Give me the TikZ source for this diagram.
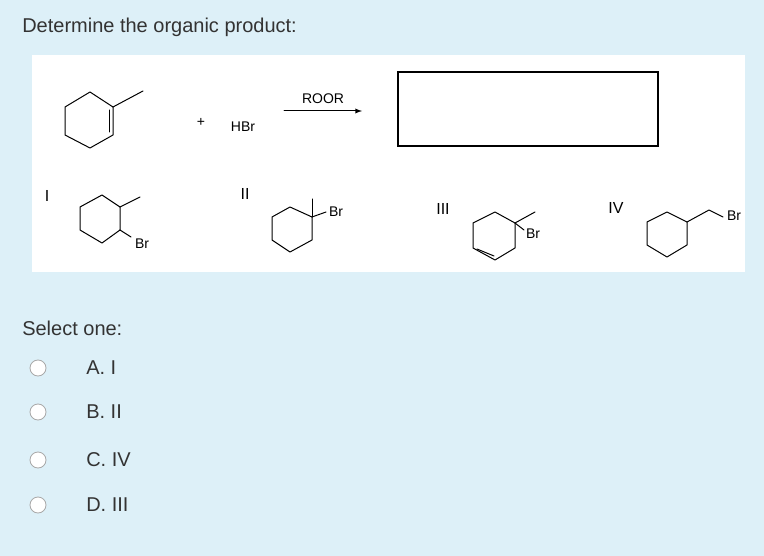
\documentclass[tikz,border=0pt]{standalone}
\usepackage{fontspec}
\setmainfont{Liberation Sans}
\definecolor{pagebg}{HTML}{DDF0F8}
\definecolor{radiogray}{HTML}{A8A8A8}
\tikzset{
  bond/.style={line width=0.75pt, line cap=round, line join=round},
  atom/.style={font=\fontsize{10.5}{12}\selectfont, inner sep=0.5pt},
  numlabel/.style={font=\fontsize{12}{13}\selectfont, inner sep=0pt},
  qtext/.style={font=\fontsize{15}{18}\selectfont, text=black!80, anchor=west, inner sep=0pt},
  radio/.style={circle, draw=radiogray, fill=white, minimum size=12pt, inner sep=0pt, line width=0.6pt}
}
\begin{document}
\begin{tikzpicture}[x=0.75pt, y=-0.75pt]
 \fill[pagebg] (0,0) rectangle (764,556);
 \useasboundingbox (0,0) rectangle (764,556);
 \fill[white] (32,55) rectangle (745,272);

 \node[qtext] (title) at (22,27) {Determine the organic product:};

 % reactant
 \draw[bond] (65,107) -- (90,92) -- (113,107) -- (113,135) -- (90,148) -- (65,135) -- cycle;
 \draw[bond] (113,107) -- (143,91);
 \draw[bond] (109,110) -- (109,132);
 \node[atom] (plus) at (201,122) {+};
 \node[atom] (hbr) at (243,127) {HBr};
 \coordinate (arrS) at (284,111);
 \coordinate (arrE) at (362,111);
 \draw[bond,-latex] (arrS) -- (arrE) node[midway,above=5pt,atom] (roor) {ROOR};
 \draw[line width=0.9pt] (398,72) rectangle (658,146);

 % I
 \node[numlabel] (lI) at (47,196) {I};
 \draw[bond] (80,207) -- (102,195) -- (120,207) -- (120,230) -- (102,243) -- (80,230) -- cycle;
 \draw[bond] (120,207) -- (140,197);
 \draw[bond] (120,230) -- (131,237);
 \node[atom] (brI) at (142,244) {Br};

 % II
 \node[numlabel] (lII) at (245,194) {II};
 \draw[bond] (272,217) -- (290,207) -- (312,217) -- (312,240) -- (290,252) -- (272,240) -- cycle;
 \draw[bond] (312,217) -- (312,199);
 \draw[bond] (312,217) -- (326,212);
 \node[atom] (brII) at (336,212) {Br};

 % III
 \node[numlabel] (lIII) at (443,209) {III};
 \draw[bond] (473,223) -- (495,212) -- (515,223) -- (515,248) -- (495,260) -- (473,248) -- cycle;
 \draw[bond] (477,249) -- (494,256);
 \draw[bond] (515,223) -- (535,212);
 \draw[bond] (515,223) -- (524,230);
 \node[atom] (brIII) at (533,234) {Br};

 % IV
 \node[numlabel] (lIV) at (616,208) {IV};
 \draw[bond] (647,222) -- (667,212) -- (687,222) -- (687,245) -- (667,257) -- (647,245) -- cycle;
 \draw[bond] (687,222) -- (709,210) -- (723,217);
 \node[atom] (brIV) at (734,216) {Br};

 % answers
 \node[qtext] (select) at (22,328) {Select one:};
 \node[radio] (rA) at (38,368) {};
 \node[radio] (rB) at (38,412) {};
 \node[radio] (rC) at (38,460) {};
 \node[radio] (rD) at (38,505) {};
 \node[qtext] (oA) at (86,368) {A. I};
 \node[qtext] (oB) at (86,412) {B. II};
 \node[qtext] (oC) at (86,460) {C. IV};
 \node[qtext] (oD) at (86,505) {D. III};
\end{tikzpicture}
\end{document}
